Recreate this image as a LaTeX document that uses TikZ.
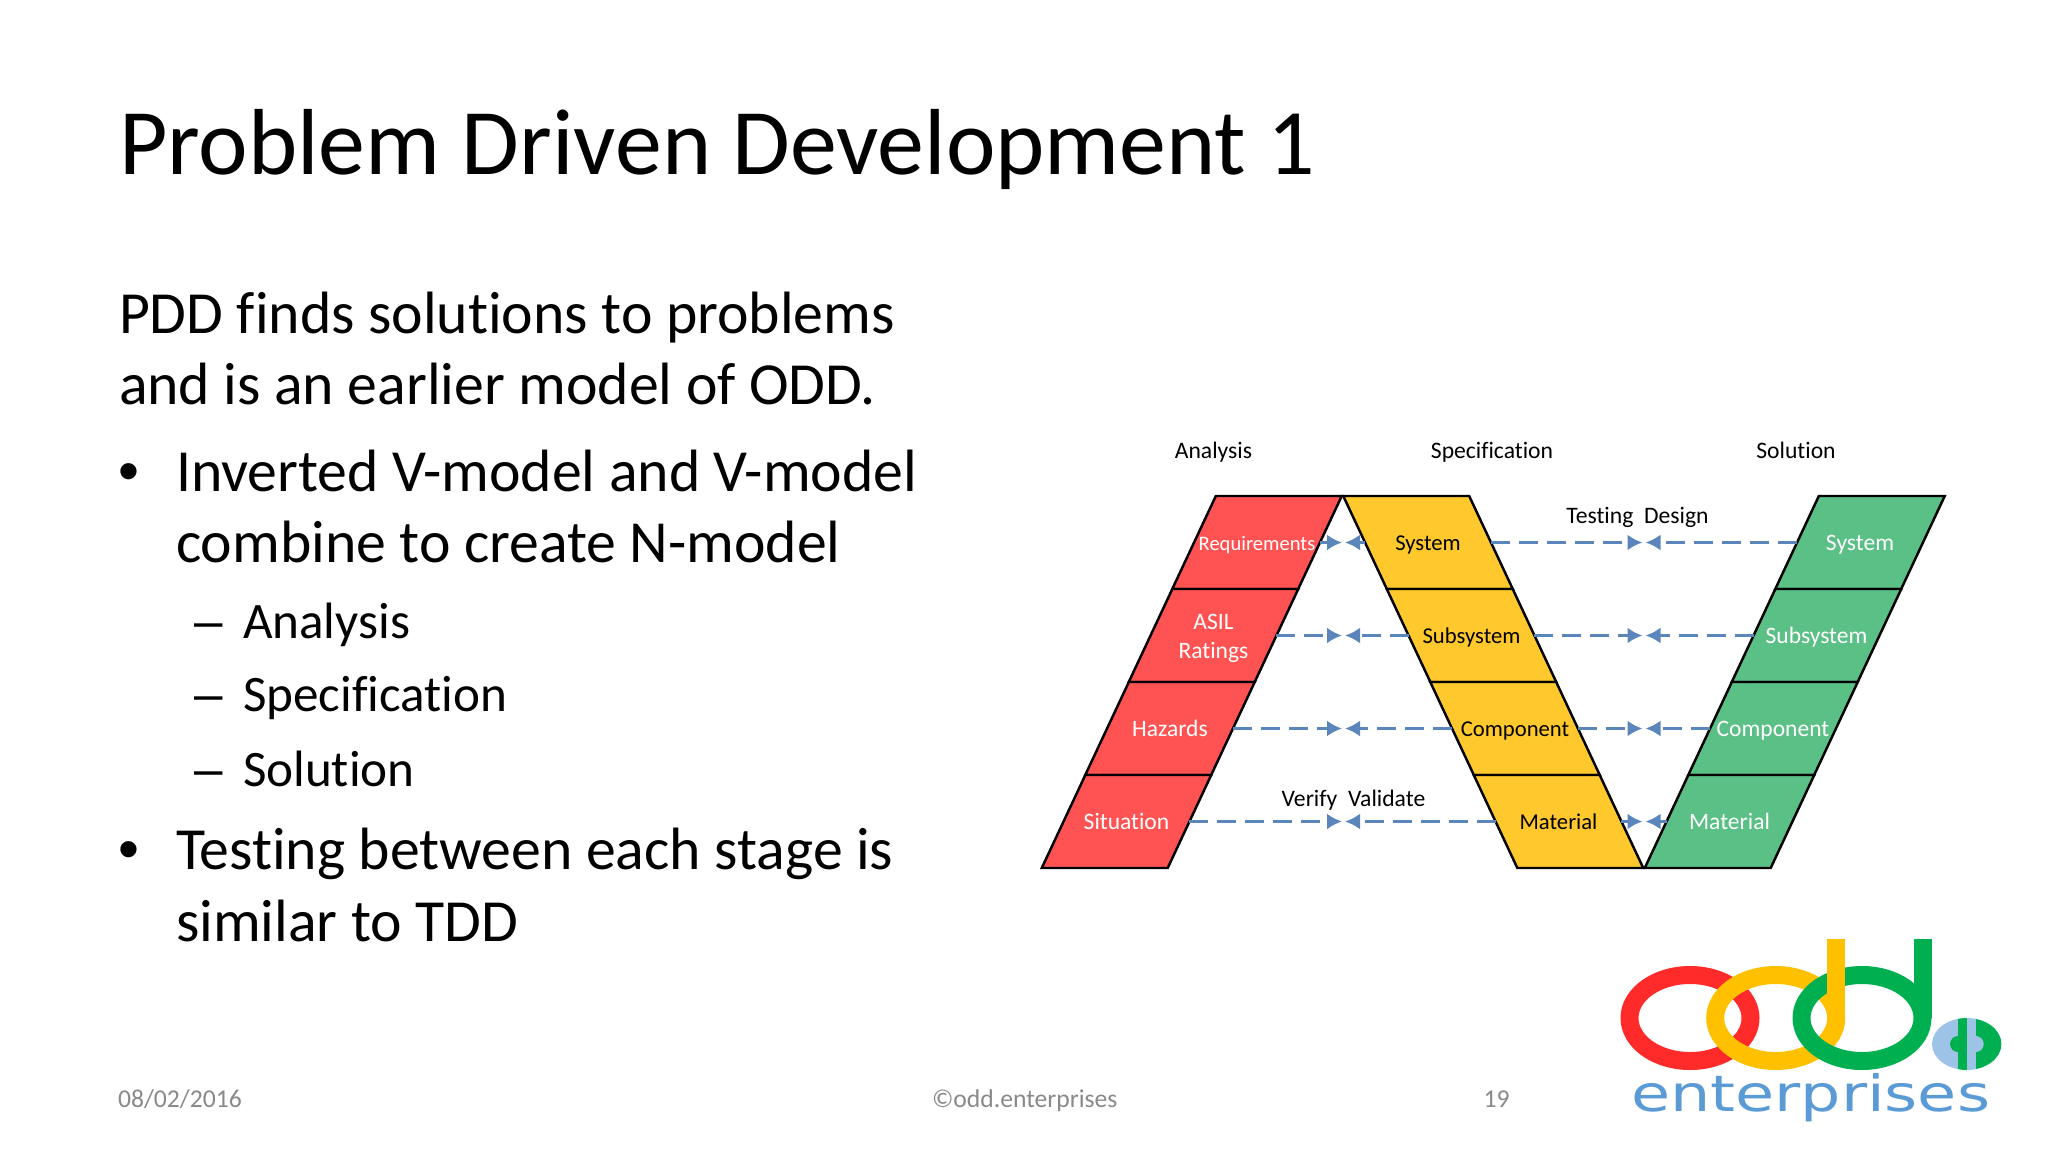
\documentclass[tikz,border=0pt]{standalone}
\usepackage{fontspec}
\setmainfont[Ligatures=NoCommon]{Carlito}
\newfontfamily\logofont[FakeStretch=1.27]{DejaVu Sans}
\newfontfamily\markfont{Liberation Sans}
\usetikzlibrary{arrows.meta}
\usetikzlibrary{shapes.geometric}
\definecolor{redbox}{HTML}{FF5353}
\definecolor{yellowbox}{HTML}{FFC92E}
\definecolor{greenbox}{HTML}{5BC086}
\definecolor{linkblue}{HTML}{5B86BC}
\definecolor{footgray}{HTML}{898989}
\definecolor{logored}{HTML}{FF2A2A}
\definecolor{logoyellow}{HTML}{FFC000}
\definecolor{logogreen}{HTML}{00B050}
\definecolor{logopale}{HTML}{9DC3E6}
\definecolor{logoblue}{HTML}{5B9BD5}
\newcommand{\cell}[1]{\makebox[0pt]{#1}}
\begin{document}
\begin{tikzpicture}[x=0.02cm,y=-0.02cm]
\tikzstyle{line}=[anchor=base west,inner sep=0pt,outer sep=0pt]
\tikzstyle{title}=[line,font=\fontsize{53.4}{64}\selectfont]
\tikzstyle{body}=[line,font=\fontsize{34}{41}\selectfont]
\tikzstyle{sub}=[line,font=\fontsize{29.1}{35}\selectfont]
\tikzstyle{foot}=[line,text=footgray,font=\fontsize{14.6}{18}\selectfont]
\tikzstyle{label}=[anchor=base,inner sep=0pt,outer sep=0pt,font=\fontsize{13.45}{16.5}\selectfont]
\tikzstyle{stage}=[trapezium,trapezium stretches body,draw=black,line width=1.4pt,minimum width=3.39cm,inner xsep=0pt,inner ysep=0.7cm,outer sep=0pt,text height=0.38cm,text depth=0.08cm]
\tikzstyle{up}=[stage,trapezium left angle=64.9,trapezium right angle=115.1]
\tikzstyle{down}=[stage,trapezium left angle=115.1,trapezium right angle=64.9]
\tikzstyle{ana}=[up,fill=redbox,text=white,font=\fontsize{13.4}{16.5}\selectfont]
\tikzstyle{spc}=[down,fill=yellowbox,text=black,font=\fontsize{12.9}{16.5}\selectfont]
\tikzstyle{sol}=[up,fill=greenbox,text=white,font=\fontsize{13.4}{16.5}\selectfont]
\tikzstyle{link}=[draw=linkblue,line width=2.1pt,dash pattern=on 0.38cm off 0.18cm,shorten >=0.03cm,-{Latex[length=0.3cm,width=0.32cm]}]
\tikzstyle{ring}=[line width=0.36cm]
\useasboundingbox (0,0) rectangle (2048,1152);
\node [title] (head) at(119,175) {Problem Driven Development 1};
\node [body] (t1) at(119,333.3) {PDD finds solutions to problems};
\node [body] (t2) at(119,404.3) {and is an earlier model of ODD.};
\node [body,font=\markfont\fontsize{34}{41}\selectfont] (b1) at(118.5,491.3) {•};
\node [body] (t3) at(176,491.3) {Inverted V-model and V-model};
\node [body] (t4) at(176,562.3) {combine to create N-model};
\node [sub,font=\markfont\fontsize{29.1}{35}\selectfont] (d1) at(194,638.3) {–};
\node [sub] (t5) at(243,638.3) {Analysis};
\node [sub,font=\markfont\fontsize{29.1}{35}\selectfont] (d2) at(194,711.3) {–};
\node [sub] (t6) at(243,711.3) {Specification};
\node [sub,font=\markfont\fontsize{29.1}{35}\selectfont] (d3) at(194,786.5) {–};
\node [sub] (t7) at(243,786.5) {Solution};
\node [body,font=\markfont\fontsize{34}{41}\selectfont] (b2) at(118.5,869.5) {•};
\node [body] (t8) at(176,869.5) {Testing between each stage is};
\node [body] (t9) at(176,941.3) {similar to TDD};
\node [foot] (date) at(118,1107.7) {08/02/2016};
\node [foot] (copy) at(932,1107.7) {©odd.enterprises};
\node [foot] (page) at(1483.5,1107.7) {19};
\node [label] (l1) at(1213.5,458) {Analysis};
\node [label] (l2) at(1492,458) {Specification};
\node [label] (l3) at(1796,458) {Solution};
\node [label] (l4) at(1637.5,523) {Testing\ \ Design};
\node [label] (l5) at(1353.5,806) {Verify\ \ Validate};
\node [ana,font=\fontsize{11.7}{16.5}\selectfont] (ana1) at(1257,542.5) {\cell{Requirements}};
\node [ana] (ana2) at(1213.5,635.5) {\cell{\raisebox{-0.314cm}[0pt][0pt]{\begin{tabular}[b]{@{}c@{}}ASIL\\Ratings\end{tabular}}}};
\node [ana] (ana3) at(1170,728.5) {\cell{Hazards}};
\node [ana] (ana4) at(1126.5,821.5) {\cell{Situation}};
\node [spc] (spc1) at(1428,542.5) {\cell{System}};
\node [spc] (spc2) at(1471.5,635.5) {\cell{Subsystem}};
\node [spc] (spc3) at(1515,728.5) {\cell{Component}};
\node [spc] (spc4) at(1558.5,821.5) {\cell{Material}};
\node [sol] (sol1) at(1860,542.5) {\cell{System}};
\node [sol] (sol2) at(1816.5,635.5) {\cell{Subsystem}};
\node [sol] (sol3) at(1773,728.5) {\cell{Component}};
\node [sol] (sol4) at(1729.5,821.5) {\cell{Material}};
\coordinate (ver1) at(1343.5,542.5);
\coordinate (ver2) at(1343.5,635.5);
\coordinate (ver3) at(1343.5,728.5);
\coordinate (ver4) at(1343.5,821.5);
\coordinate (tst1) at(1644,542.5);
\coordinate (tst2) at(1644,635.5);
\coordinate (tst3) at(1644,728.5);
\coordinate (tst4) at(1644,821.5);
\path (ana1.right side) edge [link] (ver1);
\path (spc1.left side) edge [link] (ver1);
\path (ana2.right side) edge [link] (ver2);
\path (spc2.left side) edge [link] (ver2);
\path (ana3.right side) edge [link] (ver3);
\path (spc3.left side) edge [link] (ver3);
\path (ana4.right side) edge [link] (ver4);
\path (spc4.left side) edge [link] (ver4);
\path (spc1.right side) edge [link] (tst1);
\path (sol1.left side) edge [link] (tst1);
\path (spc2.right side) edge [link] (tst2);
\path (sol2.left side) edge [link] (tst2);
\path (spc3.right side) edge [link] (tst3);
\path (sol3.left side) edge [link] (tst3);
\path (spc4.right side) edge [link] (tst4);
\path (sol4.left side) edge [link] (tst4);
\draw [ring,draw=logored] (1690,1018) ellipse [x radius=60.5,y radius=43];
\draw [ring,draw=logoyellow] (1775.7,1018) ellipse [x radius=60.5,y radius=43];
\draw [ring,draw=logogreen] (1862,1018) ellipse [x radius=60.5,y radius=43];
\fill [logoyellow] (1827.3,939) rectangle (1845,1018);
\fill [logogreen] (1914,939) rectangle (1931.7,1018);
\begin{scope}
\clip (1966.7,1044) ellipse [x radius=34.7,y radius=26];
\fill [logopale] (1930,1015) rectangle (1958,1075);
\fill [logogreen] (1958,1015) rectangle (1966.7,1075);
\fill [logopale] (1966.7,1015) rectangle (1975.7,1075);
\fill [logogreen] (1975.7,1015) rectangle (2005,1075);
\fill [logogreen] (1958,1044) circle [radius=8];
\fill [logopale] (1975.7,1044) circle [radius=8];
\end{scope}
\node [line,text=logoblue,font=\logofont\fontsize{28.5}{34}\selectfont] (ent) at(1631,1111) {enterprises};
\end{tikzpicture}
\end{document}
